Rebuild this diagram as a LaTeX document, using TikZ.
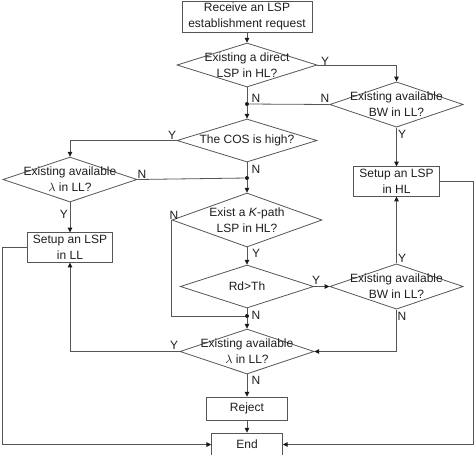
\documentclass[tikz,border=0pt]{standalone}
\usepackage{fontspec}
\setmainfont{Liberation Sans}
\usepackage{tikz}
\usetikzlibrary{arrows.meta,positioning,shapes.geometric}
\definecolor{linec}{HTML}{555555}
\definecolor{tipc}{HTML}{1A1A1A}
\definecolor{txtc}{HTML}{1E1E1E}
\tikzset{
  txt/.style={font=\fontsize{9}{12}\selectfont, text=txtc, align=center},
  box/.style={rectangle, draw=linec, line width=0.6pt, inner sep=0pt, txt},
  dia/.style 2 args={diamond, draw=linec, line width=0.6pt, inner sep=0pt,
                     minimum width=#1, minimum height=#2},
  dtxt/.style={txt, inner sep=0pt},
  wire/.style={line width=0.6pt, draw=linec},
  ar/.style={wire, -{Triangle[length=3.6pt,width=3.4pt,color=tipc]}},
  yn/.style={txt, inner sep=0pt},
  dot/.style={circle, fill=tipc, inner sep=0pt, minimum size=3pt},
}

\begin{document}
\begin{tikzpicture}[x=0.75pt, y=-0.75pt]
  \useasboundingbox (0,0) rectangle (474,454);

  % middle column
  \node[box, minimum width=97.5pt, minimum height=23.25pt] (recv) at (247,16.5)
       {Receive an LSP\\establishment request};
  \node[dia={105pt}{33pt}, label={[dtxt]center:Existing a direct\\LSP in HL?}]
       (dHL) at (247,65) {};
  \node[dot] (j1) at (247,104) {};
  \node[dia={105pt}{32.25pt}, label={[dtxt]center:The COS is high?}]
       (cos) at (247,140.5) {};
  \node[dot] (j2) at (247,178) {};
  \node[dia={112.5pt}{40.5pt}, label={[dtxt]center:Exist a \textit{K}-path\\LSP in HL?}]
       (kpath) at (247,220) {};
  \node[dia={100pt}{32.25pt}, label={[dtxt]center:Rd>Th}]
       (rdth) at (247,286.5) {};
  \node[dot] (j3) at (247,316) {};
  \node[dia={100.5pt}{33.75pt}, label={[dtxt]center:Existing available\\$\lambda$ in LL?}]
       (lamLL2) at (247,351.5) {};
  \node[box, minimum width=61pt, minimum height=17.25pt] (reject) at (247,408.5) {Reject};
  \node[box, minimum width=53pt, minimum height=17.25pt] (finish) at (247,444.5) {End};

  % left column
  \node[dia={100.5pt}{33.75pt}, label={[dtxt]center:Existing available\\$\lambda$ in LL?}]
       (lamLL1) at (70,179.5) {};
  \node[box, minimum width=64pt, minimum height=22pt] (setLL) at (70,247.5)
       {Setup an LSP\\in LL};

  % right column
  \node[dia={100pt}{34pt}, label={[dtxt]center:Existing available\\BW in LL?}]
       (bwLL1) at (396.5,104.5) {};
  \node[box, minimum width=64pt, minimum height=22pt] (setHL) at (396.5,181.5)
       {Setup an LSP\\in HL};
  \node[dia={100pt}{34pt}, label={[dtxt]center:Existing available\\BW in LL?}]
       (bwLL2) at (396.5,286.5) {};

  % connectors
  \draw[ar] (recv) -- (dHL);
  \draw[ar] (dHL.east) -| (bwLL1.north);
  \draw[wire] (dHL) -- (j1);
  \draw[wire] (bwLL1.west) -- (j1);
  \draw[ar] (j1) -- (cos);
  \draw[ar] (cos.west) -| (lamLL1.north);
  \draw[wire] (cos) -- (j2);
  \draw[wire] (lamLL1.east) -- (j2);
  \draw[ar] (j2) -- (kpath);
  \draw[ar] (lamLL1) -- (setLL);
  \draw[ar] (bwLL1) -- (setHL);
  \draw[ar] (kpath) -- (rdth);
  \draw[ar] (rdth.east) -- (bwLL2.west);
  \draw[wire] (rdth) -- (j3);
  \draw[wire] (kpath.west) |- (j3);
  \draw[ar] (bwLL2) -- (setHL);
  \draw[ar] (bwLL2.south) |- (lamLL2.east);
  \draw[ar] (j3) -- (lamLL2);
  \draw[ar] (lamLL2.west) -| (setLL.south);
  \draw[ar] (lamLL2) -- (reject);
  \draw[ar] (reject) -- (finish);
  \draw[ar] (setLL.west) -- ++(-25,0) |- (finish.west);
  \draw[ar] (setHL.east) -- ++(34,0) |- (finish.east);

  % Y / N marks
  \foreach \p/\t/\n in {(325,61)/Y/yA, (256,98)/N/nA, (325,98)/N/nB,
      (402,134)/Y/yB, (172,135)/Y/yC, (256,169)/N/nC, (142,174)/N/nD,
      (64,214)/Y/yD, (174,215)/N/nE, (256,253)/Y/yE, (316,280)/Y/yF,
      (256,315)/N/nF, (402,258)/Y/yG, (402,316)/N/nG, (174,345)/Y/yH,
      (256,380)/N/nH}
    \node[yn] (\n) at \p {\t};
\end{tikzpicture}
\end{document}
